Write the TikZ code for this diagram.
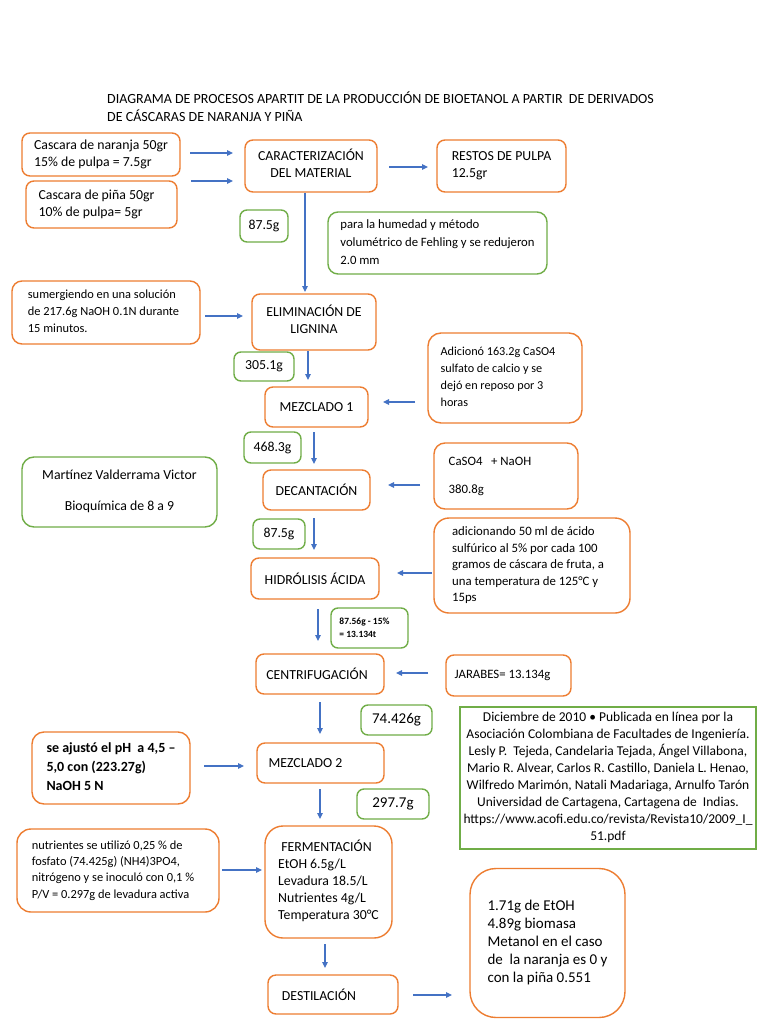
\documentclass[tikz,border=0pt]{standalone}
\usepackage{fontspec}
\setmainfont{Carlito}
\usetikzlibrary{arrows.meta}
\definecolor{oran}{HTML}{ED7D31}
\definecolor{gree}{HTML}{70AD47}
\definecolor{blu}{HTML}{4472C4}
\newcommand\LinesL[1]{\begin{tabular}{@{}l@{}}#1\end{tabular}}
\newcommand\LinesC[1]{\begin{tabular}{@{}c@{}}#1\end{tabular}}
\begin{document}
\begin{tikzpicture}[x=1pt,y=-1pt,
  base/.style={line width=1.4pt, inner sep=0pt, font=\fontsize{13.8}{17}\selectfont},
  obox/.style={base, draw=oran, rounded corners=8pt},
  gbox/.style={base, draw=gree, rounded corners=7pt},
  arr/.style={draw=blu, line width=1.1pt, -{Triangle[length=6pt,width=5.5pt]}},
  txt/.style={inner sep=0pt, font=\fontsize{13.8}{17}\selectfont}
]
\useasboundingbox[fill=white] (0,0) rectangle (768,1024);

% title
\node[txt, anchor=west, font=\fontsize{14}{18}\selectfont] (title) at (107,109)
  {\LinesL{DIAGRAMA DE PROCESOS APARTIT DE LA PRODUCCIÓN DE BIOETANOL A PARTIR \ DE DERIVADOS\\DE CÁSCARAS DE NARANJA Y PIÑA}};

% top row
\node[obox, minimum width=158pt, minimum height=43pt] (nar) at (101,154.5)
  {\LinesL{Cascara de naranja 50gr\\15\% de pulpa = 7.5gr}};
\node[obox, minimum width=151pt, minimum height=47pt] (pin) at (101.5,204.5)
  {\LinesL{Cascara de piña 50gr\\10\% de pulpa= 5gr}\hspace*{10pt}};
\node[obox, minimum width=132pt, minimum height=52pt] (car) at (311,166)
  {\LinesC{CARACTERIZACIÓN\\DEL MATERIAL}};
\node[obox, minimum width=129pt, minimum height=52pt] (res) at (501.5,166)
  {\LinesL{RESTOS DE PULPA\\12.5gr}};
\node[gbox, minimum width=48pt, minimum height=32pt] (g1) at (264,226) {87.5g};
\node[gbox, minimum width=219pt, minimum height=62pt, rounded corners=10pt, font=\fontsize{12.7}{18}\selectfont] (feh) at (437.5,243)
  {\LinesL{para la humedad y método\\volumétrico de Fehling y se redujeron\\2.0 mm}};

% eliminacion
\node[obox, minimum width=188pt, minimum height=63pt, rounded corners=10pt, font=\fontsize{12.4}{17}\selectfont] (sum) at (106,312.5)
  {\LinesL{sumergiendo en una solución\\de 217.6g NaOH 0.1N durante\\15 minutos.}\hspace*{5pt}};
\node[obox, minimum width=124pt, minimum height=56pt] (eli) at (314,322)
  {\LinesC{ELIMINACIÓN DE\\LIGNINA}};
\node[gbox, minimum width=60pt, minimum height=29pt] (g2) at (264,366.5) {305.1g};
\node[obox, minimum width=103pt, minimum height=40pt] (mz1) at (316.5,407)
  {MEZCLADO 1};
\node[obox, minimum width=154pt, minimum height=90pt, rounded corners=13pt, font=\fontsize{12.2}{17}\selectfont] (adi) at (505,378)
  {\LinesL{Adicionó 163.2g CaSO4\\sulfato de calcio y se\\dejó en reposo por 3\\horas}\hspace*{14pt}};

% decantacion
\node[gbox, minimum width=57pt, minimum height=31pt] (g3) at (272.5,447.5) {468.3g};
\node[obox, minimum width=107pt, minimum height=40pt] (dec) at (316.5,490)
  {DECANTACIÓN};
\node[obox, minimum width=144pt, minimum height=66pt, rounded corners=11pt, font=\fontsize{12.8}{17}\selectfont] (cas) at (506,476)
  {\LinesL{CaSO4 \ \ + NaOH\\[11pt]380.8g}\hspace*{32pt}};
\node[gbox, minimum width=195pt, minimum height=70pt, rounded corners=12pt] (mar) at (119.5,492)
  {\LinesC{Martínez Valderrama Victor\\[14pt]Bioquímica de 8 a 9}};

% hidrolisis
\node[gbox, minimum width=52pt, minimum height=30pt] (g4) at (279,534) {87.5g};
\node[obox, minimum width=128pt, minimum height=41pt] (hid) at (315,578.5)
  {HIDRÓLISIS ÁCIDA};
\node[obox, minimum width=196pt, minimum height=95pt, rounded corners=15pt, font=\fontsize{12.8}{16.5}\selectfont] (aci) at (532,565.5)
  {\LinesL{adicionando 50 ml de ácido\\sulfúrico al 5\% por cada 100\\gramos de cáscara de fruta, a\\una temperatura de 125°C y\\15ps}\hspace*{8pt}};

% centrifugacion
\node[gbox, minimum width=77pt, minimum height=40pt, font=\fontsize{9.5}{13}\selectfont\bfseries] (g5) at (369.5,628)
  {\LinesL{87.56g - 15\%\\= 13.134t}\hspace*{10pt}};
\node[obox, minimum width=128pt, minimum height=40pt] (cen) at (320,674)
  {CENTRIFUGACIÓN\hspace*{6pt}};
\node[obox, minimum width=125pt, minimum height=41pt, font=\fontsize{12.8}{17}\selectfont] (jar) at (508.5,675.5)
  {JARABES= 13.134g\hspace*{12pt}};
\node[gbox, minimum width=71pt, minimum height=30pt, font=\fontsize{15}{17}\selectfont] (g6) at (396.5,720) {74.426g};
\node[base, draw=gree, minimum width=296pt, minimum height=142pt, font=\fontsize{13.5}{17}\selectfont] (cit) at (608,778)
  {\LinesC{Diciembre de 2010 • Publicada en línea por la\\Asociación Colombiana de Facultades de Ingeniería.\\Lesly P. \ Tejeda, Candelaria Tejada, Ángel Villabona,\\Mario R. Alvear, Carlos R. Castillo, Daniela L. Henao,\\Wilfredo Marimón, Natali Madariaga, Arnulfo Tarón\\Universidad de Cartagena, Cartagena de \ Indias.\\https://www.acofi.edu.co/revista/Revista10/2009\_I\_\\51.pdf}};

% mezclado 2
\node[obox, minimum width=158pt, minimum height=72pt, rounded corners=12pt, font=\fontsize{14}{19}\selectfont\bfseries] (aju) at (111,768)
  {\LinesL{se ajustó el pH \ a 4,5 –\\5,0 con (223.27g)\\NaOH 5 N}};
\node[obox, minimum width=127pt, minimum height=40pt] (mz2) at (320.5,763)
  {MEZCLADO 2\hspace*{30pt}};
\node[gbox, minimum width=72pt, minimum height=30pt, font=\fontsize{15}{17}\selectfont] (g7) at (393,804) {297.7g};

% fermentacion
\node[obox, minimum width=202pt, minimum height=83pt, rounded corners=14pt, font=\fontsize{12.4}{16.3}\selectfont] (nut) at (118,870.5)
  {\LinesL{ nutrientes se utilizó 0,25 \% de\\fosfato (74.425g) (NH4)3PO4,\\nitrógeno y se inoculó con 0,1 \%\\P/V = 0.297g de levadura activa}\hspace*{10pt}};
\node[obox, minimum width=127pt, minimum height=112pt, rounded corners=18pt] (fer) at (328.5,882)
  {\LinesL{\ FERMENTACIÓN\\EtOH 6.5g/L\\Levadura 18.5/L\\Nutrientes 4g/L\\Temperatura 30°C}};
\node[obox, minimum width=130pt, minimum height=39pt] (des) at (333,994.5)
  {DESTILACIÓN\hspace*{28pt}};
\node[obox, minimum width=155pt, minimum height=149pt, rounded corners=26pt, font=\fontsize{15}{18}\selectfont] (fin) at (547.5,943)
  {\LinesL{1.71g de EtOH\\4.89g biomasa\\Metanol en el caso\\de \ la naranja es 0 y\\con la piña 0.551}};

% arrow end coordinates
\coordinate (a1s) at (190,153); \coordinate (a1e) at (233,153);
\coordinate (a2s) at (191,181); \coordinate (a2e) at (233,181);
\coordinate (a3s) at (389,167); \coordinate (a3e) at (428,167);
\coordinate (v1e) at (305,292);
\coordinate (a4s) at (205,316); \coordinate (a4e) at (243,316);
\coordinate (v2s) at (308,351); \coordinate (v2e) at (308,380);
\coordinate (a5s) at (415,402); \coordinate (a5e) at (383,402);
\coordinate (v3s) at (314,432); \coordinate (v3e) at (314,464);
\coordinate (a6s) at (420,485); \coordinate (a6e) at (388,485);
\coordinate (v4s) at (314,518); \coordinate (v4e) at (314,550);
\coordinate (a7s) at (432,573); \coordinate (a7e) at (397,573);
\coordinate (v5s) at (318,609); \coordinate (v5e) at (318,641);
\coordinate (a8s) at (428,673); \coordinate (a8e) at (396,673);
\coordinate (v6s) at (320,702); \coordinate (v6e) at (320,734);
\coordinate (a9s) at (204,766); \coordinate (a9e) at (244,766);
\coordinate (v7s) at (320,789); \coordinate (v7e) at (320,819);
\coordinate (a10s) at (222,870); \coordinate (a10e) at (262,870);
\coordinate (v8s) at (325,944); \coordinate (v8e) at (325,968);
\coordinate (a11s) at (413,995); \coordinate (a11e) at (452,995);

\draw[arr] (a1s) -- (a1e);
\draw[arr] (a2s) -- (a2e);
\draw[arr] (a3s) -- (a3e);
\draw[arr] (car.south -| v1e) -- (v1e);
\draw[arr] (a4s) -- (a4e);
\draw[arr] (v2s) -- (v2e);
\draw[arr] (a5s) -- (a5e);
\draw[arr] (v3s) -- (v3e);
\draw[arr] (a6s) -- (a6e);
\draw[arr] (v4s) -- (v4e);
\draw[arr] (a7s) -- (a7e);
\draw[arr] (v5s) -- (v5e);
\draw[arr] (a8s) -- (a8e);
\draw[arr] (v6s) -- (v6e);
\draw[arr] (a9s) -- (a9e);
\draw[arr] (v7s) -- (v7e);
\draw[arr] (a10s) -- (a10e);
\draw[arr] (v8s) -- (v8e);
\draw[arr] (a11s) -- (a11e);
\end{tikzpicture}
\end{document}
